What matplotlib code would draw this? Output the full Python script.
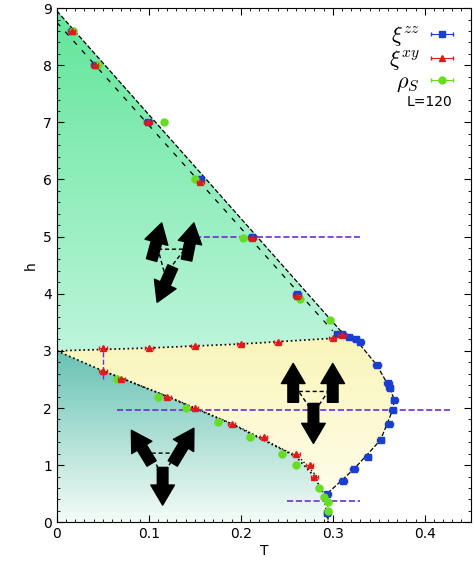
import matplotlib
matplotlib.use('Agg')
import matplotlib.pyplot as plt
import numpy as np
from matplotlib.path import Path
from matplotlib.patches import PathPatch

plt.rcParams['mathtext.fontset'] = 'cm'

# data
zz_T = [0.016, 0.041, 0.099, 0.156, 0.212, 0.261, 0.305, 0.31, 0.318, 0.325, 0.33, 0.348, 0.36, 0.362, 0.367, 0.365,
        0.361, 0.352, 0.338, 0.323, 0.311, 0.294, 0.294]
zz_h = [8.6, 8.0, 7.0, 6.0, 5.0, 4.0, 3.3, 3.3, 3.25, 3.2, 3.15, 2.75, 2.43, 2.35, 2.14, 1.96,
        1.72, 1.44, 1.14, 0.93, 0.72, 0.5, 0.16]
xy_T = [0.016, 0.041, 0.099, 0.156, 0.212, 0.261, 0.05, 0.10, 0.15, 0.20, 0.24, 0.30, 0.31,
        0.05, 0.07, 0.12, 0.15, 0.19, 0.225, 0.26, 0.275, 0.28]
xy_h = [8.6, 8.0, 7.0, 5.95, 4.97, 3.96, 3.05, 3.05, 3.08, 3.12, 3.15, 3.22, 3.28,
        2.65, 2.5, 2.2, 2.0, 1.72, 1.5, 1.2, 1.0, 0.8]
rho_T = [0.018, 0.045, 0.117, 0.150, 0.202, 0.264, 0.297, 0.065, 0.11, 0.14, 0.175, 0.21, 0.245, 0.26,
         0.285, 0.29, 0.295, 0.295]
rho_h = [8.6, 8.0, 7.0, 6.0, 4.97, 3.9, 3.54, 2.5, 2.2, 2.0, 1.75, 1.5, 1.2, 1.0,
         0.6, 0.45, 0.35, 0.2]

# phase boundaries
up_T = [0.0, 0.308, 0.325]
up_h = [8.95, 3.36, 3.2]
mid_T = [0.0, 0.1, 0.2, 0.3, 0.31]
mid_h = [3.0, 3.05, 3.12, 3.22, 3.28]
low_T = [0.0, 0.05, 0.12, 0.19, 0.26, 0.28, 0.29, 0.295]
low_h = [3.0, 2.65, 2.2, 1.72, 1.15, 0.8, 0.5, 0.0]
out_T = [0.325, 0.348, 0.362, 0.367, 0.365, 0.352, 0.323, 0.294, 0.295]
out_h = [3.2, 2.75, 2.35, 2.14, 1.96, 1.44, 0.93, 0.5, 0.0]

# spin pictograms: arrows (base T, base h, tip T, tip h) and dashed triangles
arrows_ul = [(0.103, 4.59, 0.114, 5.24), (0.141, 4.59, 0.149, 5.24), (0.126, 4.47, 0.109, 3.85)]
tri_ul = [(0.110, 4.78), (0.139, 4.78), (0.1175, 4.33)]
arrows_r = [(0.257, 2.10, 0.257, 2.78), (0.300, 2.10, 0.300, 2.78), (0.279, 2.08, 0.279, 1.38)]
tri_r = [(0.263, 2.29), (0.295, 2.29), (0.279, 1.91)]
arrows_ll = [(0.103, 1.03, 0.081, 1.61), (0.126, 1.03, 0.149, 1.646), (0.115, 0.96, 0.115, 0.30)]
tri_ll = [(0.103, 1.21), (0.130, 1.21), (0.114, 0.79)]

fig = plt.figure(figsize=(4.74, 5.79), dpi=100)
ax = fig.add_axes([0.12, 0.098, 0.873, 0.888])

def region(xs, ys, top, bot, extent_y):
    grad = np.linspace(0, 1, 256)[:, None]
    cols = np.array(top)[None, :] * grad[..., None] + np.array(bot)[None, :] * (1 - grad[..., None])
    im = ax.imshow(cols, extent=[0, 0.45, extent_y[0], extent_y[1]], origin='lower', aspect='auto', zorder=0)
    patch = PathPatch(Path(np.column_stack([xs, ys])), fc='none', ec='none')
    ax.add_patch(patch)
    im.set_clip_path(patch)

region(up_T + mid_T[::-1], up_h + mid_h[::-1], (0.38, 0.90, 0.60), (0.74, 0.96, 0.86), (3, 9))
region(mid_T + out_T + low_T[::-1], mid_h + out_h + low_h[::-1], (0.98, 0.96, 0.72), (1.0, 1.0, 0.95), (0, 3.3))
region(low_T + [0.0], low_h + [0.0], (0.40, 0.76, 0.70), (0.96, 0.99, 0.97), (0, 3))

ax.plot(up_T, up_h, 'k--', lw=0.9, zorder=2)
ax.plot([0.0, 0.3], [8.75, 3.35], 'k--', lw=0.9, zorder=2, dashes=(4, 6))
ax.plot(mid_T, mid_h, 'k:', lw=1.2, zorder=2)
ax.plot(low_T, low_h, 'k:', lw=1.2, zorder=2)
ax.plot([t + 0.004 for t in low_T[1:-2]], [h - 0.02 for h in low_h[1:-2]], 'k:', lw=1.0, zorder=2)
ax.plot(out_T, out_h, 'k--', lw=0.9, zorder=2)

ax.plot([0.15, 0.33], [5, 5], '--', color='#6a2fd8', lw=1.2, zorder=3)
ax.plot([0.065, 0.43], [1.97, 1.97], '--', color='#6a2fd8', lw=1.2, zorder=3)
ax.plot([0.25, 0.33], [0.38, 0.38], '--', color='#6a2fd8', lw=1.2, zorder=3)
ax.plot([0.05, 0.05], [2.5, 3.05], '--', color='#6a2fd8', lw=1.0, zorder=3)

ax.errorbar(zz_T, zz_h, xerr=0.004, fmt='s', color='#1a3fd0', ms=5, lw=0.8, capsize=1.5, zorder=4, label=r'$\xi^{zz}$')
ax.errorbar(xy_T, xy_h, xerr=0.004, fmt='^', color='#e01a1a', ms=5, lw=0.8, capsize=1.5, zorder=5, label=r'$\xi^{xy}$')
ax.errorbar(rho_T, rho_h, xerr=0.003, fmt='o', color='#66dd22', ms=5, lw=0.8, capsize=1.5, zorder=4, label=r'$\rho_S$')

def spin(arrows, tri):
    for bx, by, tx, ty in arrows:
        ax.annotate('', xy=(tx, ty), xytext=(bx, by),
                    arrowprops=dict(arrowstyle='simple,head_width=1.0,head_length=0.85,tail_width=0.45',
                                    color='black', shrinkA=0, shrinkB=0, mutation_scale=17), zorder=6)
    pts = tri + [tri[0]]
    ax.plot([p[0] for p in pts], [p[1] for p in pts], 'k--', lw=1, dashes=(3, 2), zorder=7)

spin(arrows_ul, tri_ul)
spin(arrows_r, tri_r)
spin(arrows_ll, tri_ll)

ax.set_xlim(0, 0.45)
ax.set_ylim(0, 9)
ax.set_xticks([0, 0.1, 0.2, 0.3, 0.4])
ax.set_xticklabels(['0', '0.1', '0.2', '0.3', '0.4'])
ax.set_yticks(range(10))
ax.set_xticks(np.arange(0, 0.451, 0.01), minor=True)
ax.set_yticks(np.arange(0, 9.01, 0.2), minor=True)
ax.tick_params(which='both', direction='in', top=True, right=True, labelsize=10)
ax.tick_params(which='major', length=5)
ax.tick_params(which='minor', length=2.5)
ax.set_xlabel('T', fontsize=10, labelpad=2)
ax.set_ylabel('h', fontsize=10, labelpad=4)

ax.legend(loc='upper right', frameon=False, fontsize=16, handlelength=1.2, markerfirst=False,
          borderaxespad=0.3, labelspacing=0.0, handletextpad=0.4)
ax.text(0.405, 7.35, 'L=120', ha='center', va='center', fontsize=10)

fig.savefig('out.png', dpi=100)
